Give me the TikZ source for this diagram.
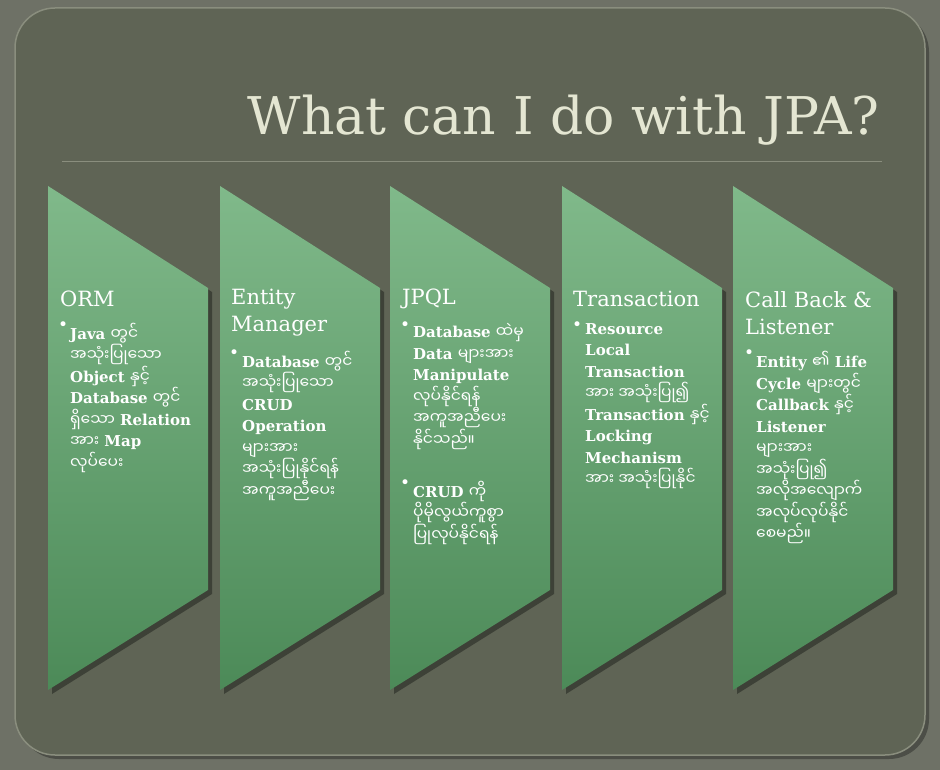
\documentclass[tikz,border=0pt]{standalone}
\usepackage{fontspec}
\setmainfont{DejaVu Serif}
\newfontfamily\mm[Script=Myanmar]{Noto Sans Myanmar UI}
\definecolor{bgout}{HTML}{6E7166}
\definecolor{bgin}{HTML}{5F6455}
\definecolor{frame}{HTML}{8A8E7E}
\definecolor{titlec}{HTML}{E4E6D2}
\definecolor{gtop}{HTML}{80B98A}
\definecolor{gbot}{HTML}{4C8A58}
\tikzset{
  chev/.style={top color=gtop,bottom color=gbot,draw=none},
  chevshadow/.style={fill=black,opacity=0.35},
  head/.style={anchor=west,text=white,font=\fontsize{21}{27}\selectfont,align=left,inner sep=0},
  body/.style={anchor=north west,text=white,font=\fontsize{15}{21.5}\selectfont\bfseries,align=left,inner sep=0},
  bul/.style={anchor=north west,text=white,font=\fontsize{17}{21.5}\selectfont,inner sep=0}
}
\newcommand{\M}[1]{{\mm\mdseries\fontsize{15.5}{21.5}\selectfont #1}}
\begin{document}
\begin{tikzpicture}[x=1pt,y=-1pt]
\fill[bgout] (0,0) rectangle (940,770);
\useasboundingbox (0,0) rectangle (940,770);
\fill[black,opacity=0.3] (19,12) [rounded corners=40] rectangle (929,759);
\draw[frame,fill=bgin,line width=1.5,rounded corners=40] (15,8) rectangle (925,755);
\node[anchor=base east,text=titlec,font=\fontsize{52}{60}\selectfont,inner sep=0] (title) at (880,135) {What can I do with JPA?};
\draw[frame,line width=1] (62,162) -- (882,162);
\foreach \x/\n in {48/c1,220/c2,390/c3,562/c4,733/c5}{
  \fill[chevshadow] (\x+4,190) -- (\x+164,292) -- (\x+164,594) -- (\x+4,694) -- cycle;
  \path[chev] (\x,186) -- (\x+160,288) -- (\x+160,590) -- (\x,690) -- cycle;
  \coordinate (\n) at (\x,186);
}
% col1
\node[head] (h1) at (60,299) {ORM};
\node[bul] (b1) at (58,322) {•};
\node[body] (t1) at (70,323) {Java \M{တွင်}\\ \M{အသုံးပြုသော}\\ Object \M{နှင့်}\\ Database \M{တွင်}\\ \M{ရှိသော} Relation\\ \M{အား} Map\\ \M{လုပ်ပေး}};
% col2
\node[head] (h2) at (231,313) {Entity\\ Manager};
\node[bul] (b2) at (229,350) {•};
\node[body] (t2) at (242,351) {Database \M{တွင်}\\ \M{အသုံးပြုသော}\\ CRUD\\ Operation\\ \M{များအား}\\ \M{အသုံးပြုနိုင်ရန်}\\ \M{အကူအညီပေး}};
% col3
\node[head] (h3) at (402,299) {JPQL};
\node[bul] (b3) at (400,322) {•};
\node[body] (t3) at (413,323) {Database \M{ထဲမှ}\\ Data \M{များအား}\\ Manipulate\\ \M{လုပ်နိုင်ရန်}\\ \M{အကူအညီပေး}\\ \M{နိုင်သည်။}};
\node[bul] (b3b) at (400,480) {•};
\node[body] (t3b) at (413,481) {CRUD \M{ကို}\\ \M{ပိုမိုလွယ်ကူစွာ}\\ \M{ပြုလုပ်နိုင်ရန်}};
% col4
\node[head] (h4) at (573,299) {Transaction};
\node[bul] (b4) at (572,322) {•};
\node[body] (t4) at (585,323) {Resource\\ Local\\ Transaction\\ \M{အား အသုံးပြု၍}\\ Transaction \M{နှင့်}\\ Locking\\ Mechanism\\ \M{အား အသုံးပြုနိုင်}};
% col5
\node[head] (h5) at (745,313) {Call Back \&\\ Listener};
\node[bul] (b5) at (744,350) {•};
\node[body] (t5) at (756,351) {Entity \M{၏} Life\\ Cycle \M{များတွင်}\\ Callback \M{နှင့်}\\ Listener\\ \M{များအား}\\ \M{အသုံးပြု၍}\\ \M{အလိုအလျောက်}\\ \M{အလုပ်လုပ်နိုင်}\\ \M{စေမည်။}};
\end{tikzpicture}
\end{document}
